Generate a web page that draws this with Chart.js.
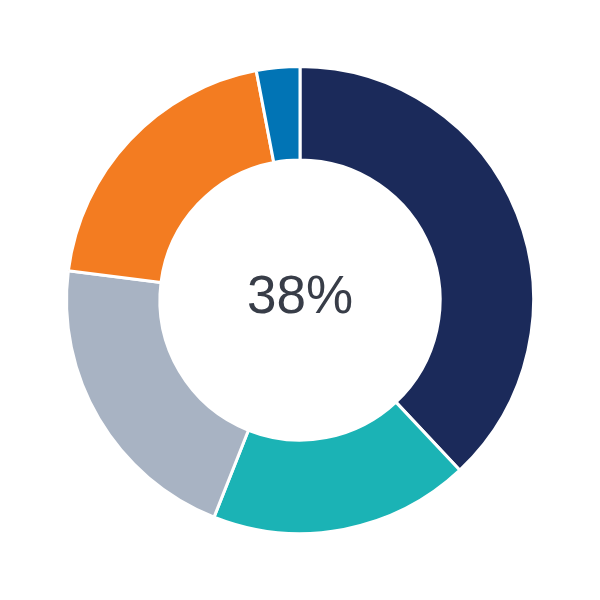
<!DOCTYPE html>
<html>
<head>
<meta charset="utf-8">
<script src="https://cdn.jsdelivr.net/npm/chart.js@4.4.1/dist/chart.umd.min.js"></script>
<style>
  html, body { margin: 0; padding: 0; background: #ffffff; }
  #wrap { width: 600px; height: 600px; }
</style>
</head>
<body>
<div id="wrap"><canvas id="donutChart"></canvas></div>
<script>
const segments = ["A", "B", "C", "D", "E"];
const shares = [38, 18, 21, 20, 3];
const segmentColors = ["#1b2a5a", "#1bb3b5", "#a8b3c3", "#f37c21", "#0174b5"];
const centerLabel = "38%";

// draws the big percentage in the hole
const centerText = {
  id: "centerText",
  afterDraw(chart) {
    const ctx = chart.ctx;
    const meta = chart.getDatasetMeta(0).data[0];
    ctx.save();
    ctx.font = "53px 'Liberation Sans', Arial, sans-serif";
    ctx.fillStyle = "#383d48";
    ctx.textAlign = "center";
    ctx.textBaseline = "middle";
    ctx.fillText(centerLabel, meta.x, meta.y - 2);
    ctx.restore();
  },
};

const ctx = document.getElementById("donutChart").getContext("2d");
const donutChart = new Chart(ctx, {
  type: "doughnut",
  data: {
    labels: segments,
    datasets: [
      {
        data: shares,
        backgroundColor: segmentColors,
        borderColor: "#ffffff",
        borderWidth: 3,
      },
    ],
  },
  options: {
    responsive: true,
    maintainAspectRatio: false,
    animation: false,
    cutout: "60%",
    layout: { padding: 65 },
    plugins: {
      legend: { display: false },
      tooltip: { enabled: false },
    },
  },
  plugins: [centerText],
});
</script>
</body>
</html>
